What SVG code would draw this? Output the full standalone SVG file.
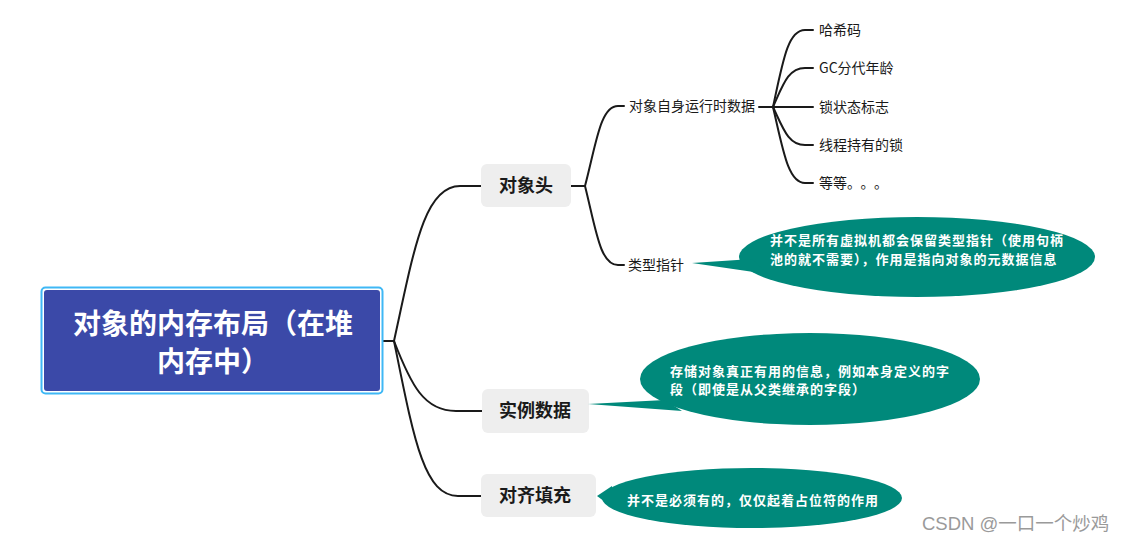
<svg xmlns="http://www.w3.org/2000/svg" width="1127" height="543" viewBox="0 0 1127 543">
<style>
.conn{fill:none;stroke:#1a1a1a;stroke-width:2;stroke-linecap:round}
.node{fill:#eeeeee}
.nt{font-family:"Noto Sans CJK SC","Noto Sans",sans-serif;font-size:18px;font-weight:bold;fill:#1a1a1a;text-anchor:middle}
.lt{font-family:"Noto Sans CJK SC","Noto Sans",sans-serif;font-size:14px;fill:#1a1a1a}
.call{fill:#00897b}
.ct{font-family:"Noto Sans CJK SC","Noto Sans",sans-serif;font-size:13px;letter-spacing:1px;font-weight:bold;fill:#ffffff}
</style>
<rect width="1127" height="543" fill="#ffffff"/>
<g id="connectors">
<path class="conn" d="M383,341 H394"/>
<path class="conn" d="M394,341 C414,250 424,186 460,186 H481"/>
<path class="conn" d="M394,341 C411,385 424,411 456,411 H482"/>
<path class="conn" d="M394,341 C414,440 424,496 458,496 H481"/>
<path class="conn" d="M571,186 H585"/>
<path class="conn" d="M585,186 C596,145 600,106 618,106 H624"/>
<path class="conn" d="M585,186 C596,230 600,265 618,265 H624"/>
<path class="conn" d="M759,107 H773"/>
<path class="conn" d="M773,107 C783,60 788,30 805,30 H813"/>
<path class="conn" d="M773,107 C783,85 788,68 805,68 H813"/>
<path class="conn" d="M773,107 H813"/>
<path class="conn" d="M773,107 C783,128 788,145 805,145 H813"/>
<path class="conn" d="M773,107 C783,150 788,183 805,183 H813"/>
</g>
<g id="root">
<rect x="41.5" y="287.5" width="341" height="106" rx="4" fill="#ffffff" stroke="#3fb8f5" stroke-width="2"/>
<rect x="44" y="290" width="336" height="101" rx="3" fill="#3b49a8"/>
<text font-family="'Noto Sans CJK SC','Noto Sans',sans-serif" font-size="28" font-weight="bold" fill="#ffffff" text-anchor="middle"><tspan x="213" y="334">对象的内存布局（在堆</tspan><tspan x="213" y="372">内存中）</tspan></text>
</g>
<g id="n-header">
<rect class="node" x="481" y="164" width="90" height="43" rx="6"/>
<text class="nt" x="526" y="192">对象头</text>
</g>
<g id="n-instance">
<rect class="node" x="482" y="389" width="107" height="44" rx="6"/>
<text class="nt" x="535" y="417">实例数据</text>
</g>
<g id="n-padding">
<rect class="node" x="481" y="474" width="115" height="43" rx="6"/>
<text class="nt" x="535" y="502">对齐填充</text>
</g>
<g id="n-markword">
<text class="lt" x="629" y="111">对象自身运行时数据</text>
</g>
<g id="n-klass">
<text class="lt" x="628" y="270">类型指针</text>
</g>
<g id="n-hash"><text class="lt" x="819" y="35">哈希码</text></g>
<g id="n-gc"><text class="lt" x="819" y="73">GC分代年龄</text></g>
<g id="n-lock"><text class="lt" x="819" y="112">锁状态标志</text></g>
<g id="n-thread"><text class="lt" x="819" y="150">线程持有的锁</text></g>
<g id="n-etc"><text class="lt" y="188"><tspan x="819">等等</tspan><tspan x="847">。</tspan><tspan x="860.5">。</tspan><tspan x="874">。</tspan></text></g>
<g id="callout-klass">
<ellipse class="call" cx="917" cy="257" rx="178" ry="40"/>
<path class="call" d="M692,263 L752,259 L768,274 Z"/>
<text class="ct"><tspan x="770" y="245">并不是所有虚拟机都会保留类型指针（使用句柄</tspan><tspan x="770" y="264">池的就不需要），作用是指向对象的元数据信息</tspan></text>
</g>
<g id="callout-instance">
<ellipse class="call" cx="810" cy="379" rx="170" ry="46"/>
<path class="call" d="M588,404 L665,400 L682,411 Z"/>
<text class="ct"><tspan x="670" y="376">存储对象真正有用的信息，例如本身定义的字</tspan><tspan x="670" y="394">段（即使是从父类继承的字段）</tspan></text>
</g>
<g id="callout-padding">
<ellipse class="call" cx="752" cy="498" rx="150" ry="30"/>
<path class="call" d="M597,496 L612,486 L612,507 Z"/>
<text class="ct" x="627" y="505">并不是必须有的，仅仅起着占位符的作用</text>
</g>
<text x="922" y="530" font-family="'Liberation Sans','Noto Sans CJK SC',sans-serif" font-size="18.5" fill="#9a9a9a">CSDN @一口一个炒鸡</text>
</svg>
